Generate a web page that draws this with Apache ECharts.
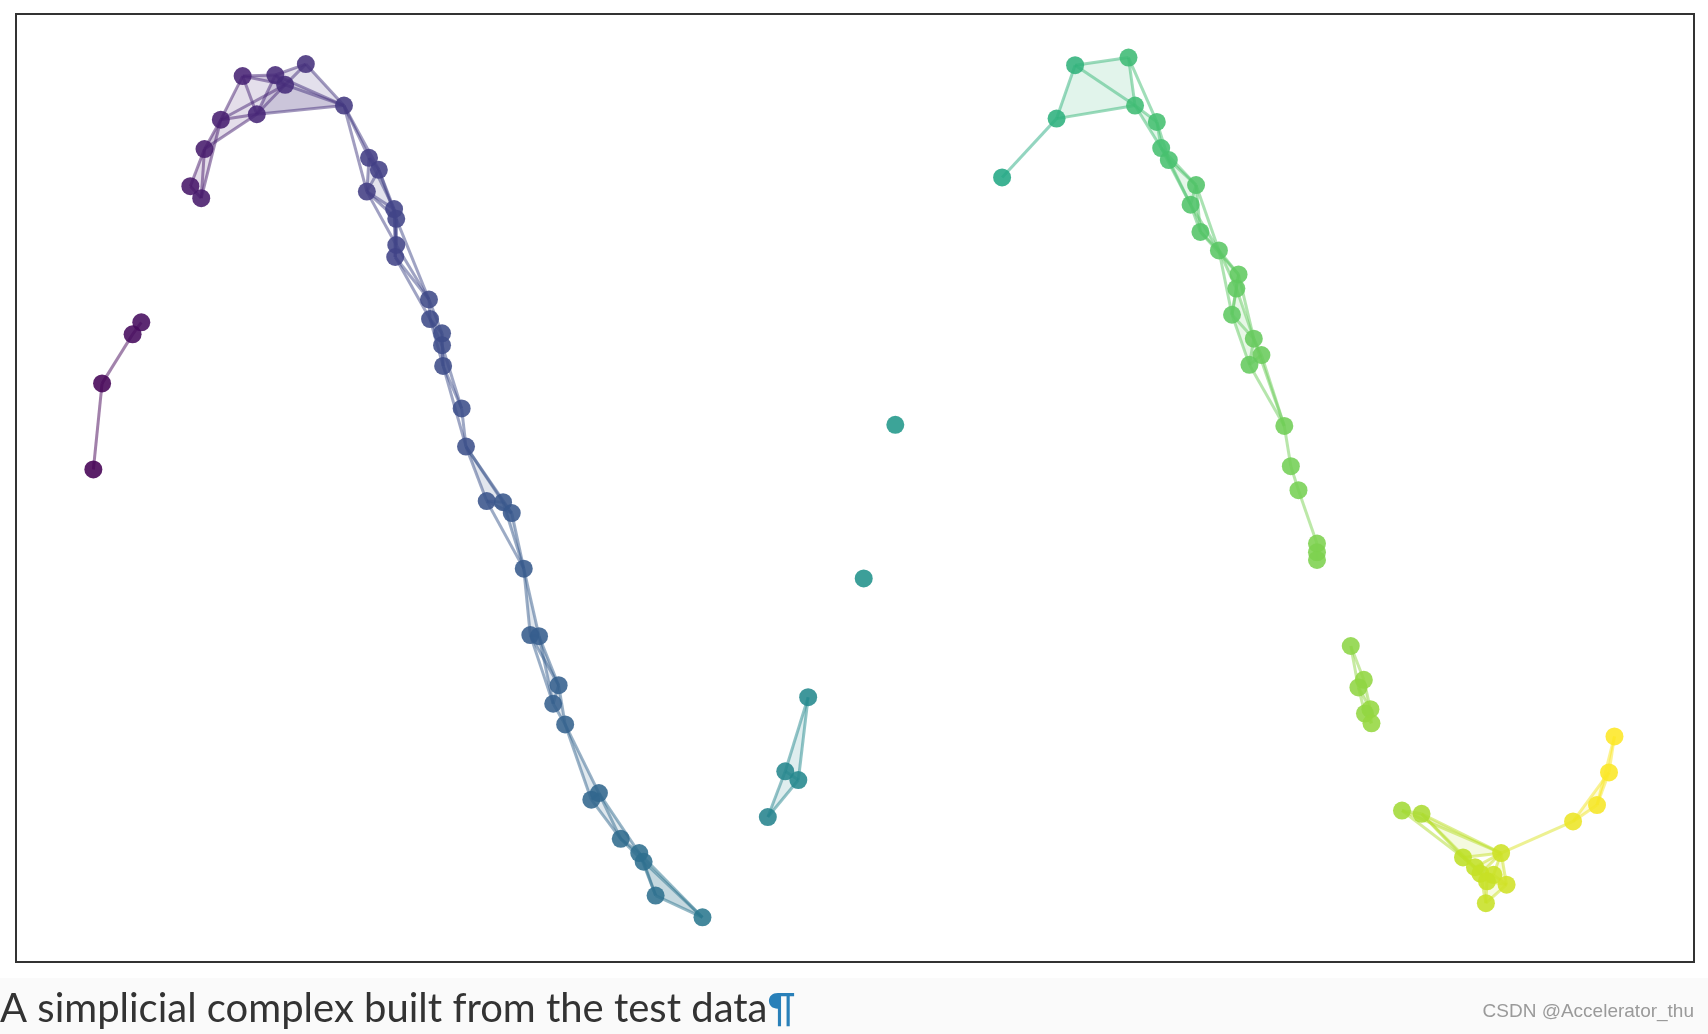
<!DOCTYPE html>
<html>
<head>
<meta charset="utf-8">
<script src="https://cdn.jsdelivr.net/npm/echarts@6/dist/echarts.min.js"></script>
<style>
html,body{margin:0;padding:0;background:#ffffff;}
#chart{width:1708px;height:1034px;}
</style>
</head>
<body>
<div id="chart"></div>
<script>
// Node positions (unitless layout coordinates)
const nodeX = [
  130,122,94,86,
  175,185,188,203,223,236,253,262,281,316,339,348,337,362,364,364,363,394,395,406,406,407,424,428,447,462,470,481,487,495,513,508,519,543,550,570,587,591,602,645,
  742,721,733,705,
  822,793,
  920,970,987,1036,1042,1062,1066,1073,1098,1093,1102,1119,1137,1135,1131,1151,1158,1147,1179,1185,1192,1209,1209,1209,
  1240,1252,1247,1258,1253,1259,
  1287,1305,1343,1354,1359,1371,1365,1378,1383,1364,1444,1466,1477,1482
];
const nodeY = [
  296,307,352,431,
  171,182,137,110,70,105,69,78,59,97,145,156,176,192,201,225,236,275,293,306,317,336,375,410,460,461,471,522,583,584,629,646,665,734,728,770,783,791,822,842,
  640,708,716,750,
  390,531,
  163,109,60,53,97,112,136,147,170,188,213,230,252,265,289,311,326,335,391,428,450,499,507,514,
  593,624,631,651,655,664,
  744,747,787,796,802,803,809,783,812,829,754,739,709,676
];
// 1-simplices (pairs of node indices)
const edges = [
  [0,1],[1,2],[2,3],
  [4,5],[4,6],[5,6],[6,7],[5,7],[7,8],[7,9],[8,9],[8,10],[9,10],[10,11],[9,11],[10,12],[11,12],[12,13],[11,13],[9,13],[7,11],[6,9],[10,13],[8,11],
  [13,14],[13,15],[13,16],[14,15],[14,16],[15,16],[14,17],[15,17],[16,17],[15,18],[16,18],[17,18],[17,19],[18,19],[16,19],[19,20],[18,20],[17,20],
  [19,21],[20,21],[18,21],[21,22],[20,22],[21,23],[22,23],[22,24],[23,24],[23,25],[24,25],[22,25],[25,26],[24,26],[26,27],[25,27],
  [27,28],[27,29],[27,30],[28,29],[29,30],[28,30],[28,31],[30,31],[29,31],[31,32],[31,33],[32,33],[32,34],[33,34],[32,35],[33,35],[34,35],
  [34,36],[35,36],[36,37],[36,38],[37,38],[37,39],[38,39],[38,40],[39,40],[39,41],[40,41],[40,42],[41,42],[41,43],[42,43],[40,43],
  [44,45],[44,46],[45,46],[45,47],[46,47],
  [50,51],[51,52],[51,54],[52,53],[52,54],[53,54],[53,55],[54,55],[55,56],[54,56],[55,57],[56,57],[56,58],[57,58],[57,59],[58,59],[56,59],
  [58,60],[59,60],[60,61],[59,61],[58,61],[61,62],[60,62],[61,63],[62,63],[62,64],[63,64],[61,64],[63,65],[64,65],[62,65],
  [65,66],[65,67],[66,67],[64,67],[67,68],[66,68],[65,68],[68,69],[69,70],[70,71],[71,72],[72,73],
  [74,75],[74,76],[75,76],[75,77],[76,77],[76,78],[77,78],[77,79],[78,79],
  [80,81],[80,82],[81,82],[80,87],[81,87],[81,83],[82,83],[82,84],[83,84],[82,87],[83,87],[84,87],[84,85],[85,86],[84,86],[85,88],[86,88],
  [86,89],[84,89],[88,89],[85,87],[87,88],[87,90],[90,91],[90,92],[91,92],[92,93],[91,93]
];
// 2-simplices (triples of node indices)
const triangles = [
  [4,5,6],[5,6,7],[6,7,9],[7,8,9],[8,9,10],[9,10,11],[10,11,12],[11,12,13],[9,11,13],[8,10,11],[9,10,13],
  [13,14,15],[14,15,16],[15,16,17],[16,17,18],[17,18,19],[18,19,20],[22,23,24],[23,24,25],
  [27,28,29],[28,29,30],[29,30,31],[31,32,33],[32,33,34],[33,34,35],[34,35,36],[36,37,38],[37,38,39],[38,39,40],[39,40,41],[40,41,42],[41,42,43],[40,42,43],
  [44,45,46],[45,46,47],
  [51,52,54],[52,53,54],[54,55,56],[55,56,57],[56,57,58],[57,58,59],[58,59,60],[59,60,61],[60,61,62],[61,62,63],[62,63,64],[63,64,65],[64,65,67],[65,66,67],
  [75,76,77],[77,78,79],
  [80,81,87],[81,82,87],[82,83,84],[83,84,87],[84,85,86],[85,86,88],[86,88,89],[84,86,89],[85,87,88],[90,91,92],[91,92,93]
];

const viridis = ['#440154','#482475','#414487','#355f8d','#2a788e','#21918c','#22a884','#44bf70','#7ad151','#bddf26','#fde725'];
const xMinC = 86, xMaxC = 1482;
function hex2rgb(h){return [parseInt(h.substr(1,2),16),parseInt(h.substr(3,2),16),parseInt(h.substr(5,2),16)];}
function colorAt(x, a){
  let t = (x - xMinC)/(xMaxC - xMinC); t = Math.max(0, Math.min(1, t));
  const p = t*(viridis.length-1); const i = Math.min(Math.floor(p), viridis.length-2); const f = p - i;
  const c0 = hex2rgb(viridis[i]), c1 = hex2rgb(viridis[i+1]);
  const c = c0.map((v,k)=>Math.round(v+(c1[k]-v)*f));
  return 'rgba('+c[0]+','+c[1]+','+c[2]+','+(a===undefined?1:a)+')';
}

const nodeData = nodeX.map((x,i)=>({value:[x,nodeY[i]], itemStyle:{color:colorAt(x,1), opacity:0.88}}));
const edgeData = edges.map(e=>[nodeX[e[0]],nodeY[e[0]],nodeX[e[1]],nodeY[e[1]]]);
const triData = triangles.map(t=>[nodeX[t[0]],nodeY[t[0]],nodeX[t[1]],nodeY[t[1]],nodeX[t[2]],nodeY[t[2]]]);

const chart = echarts.init(document.getElementById('chart'), null, {renderer:'canvas'});
chart.setOption({
  animation:false,
  backgroundColor:'#ffffff',
  grid:{left:16, top:14, width:1678, height:948, show:true, borderColor:'#333333', borderWidth:2, backgroundColor:'#ffffff'},
  xAxis:{type:'value', min:15, max:1555, show:false},
  yAxis:{type:'value', min:13, max:883, inverse:true, show:false},
  graphic:[
    {type:'rect', left:0, top:978, shape:{width:1708, height:56}, style:{fill:'#fafafa'}, z:-10},
    {type:'text', left:0, top:989, style:{
      text:'{a|A simplicial complex built from the test data}{b|\u00b6}',
      rich:{a:{font:'40px Lato', fill:'#333333'}, b:{font:'40px Lato', fill:'#2980b9'}}
    }},
    {type:'text', right:14, top:1002, style:{text:'CSDN @Accelerator_thu', font:'19px "Liberation Sans"', fill:'#9a9a9a'}}
  ],
  series:[
    {
      type:'custom', coordinateSystem:'cartesian2d', z:1, silent:true,
      data: triData,
      renderItem:function(params, api){
        const pts = [api.coord([api.value(0),api.value(1)]), api.coord([api.value(2),api.value(3)]), api.coord([api.value(4),api.value(5)])];
        const mx = (api.value(0)+api.value(2)+api.value(4))/3;
        return {type:'polygon', shape:{points:pts}, style:{fill:colorAt(mx,0.15), stroke:null}};
      }
    },
    {
      type:'custom', coordinateSystem:'cartesian2d', z:2, silent:true,
      data: edgeData,
      renderItem:function(params, api){
        const p1 = api.coord([api.value(0),api.value(1)]), p2 = api.coord([api.value(2),api.value(3)]);
        const mx = (api.value(0)+api.value(2))/2;
        return {type:'line', shape:{x1:p1[0],y1:p1[1],x2:p2[0],y2:p2[1]}, style:{stroke:colorAt(mx,0.5), lineWidth:3}};
      }
    },
    {
      type:'scatter', z:3, symbol:'circle', symbolSize:18,
      data: nodeData
    }
  ]
});
</script>
</body>
</html>
